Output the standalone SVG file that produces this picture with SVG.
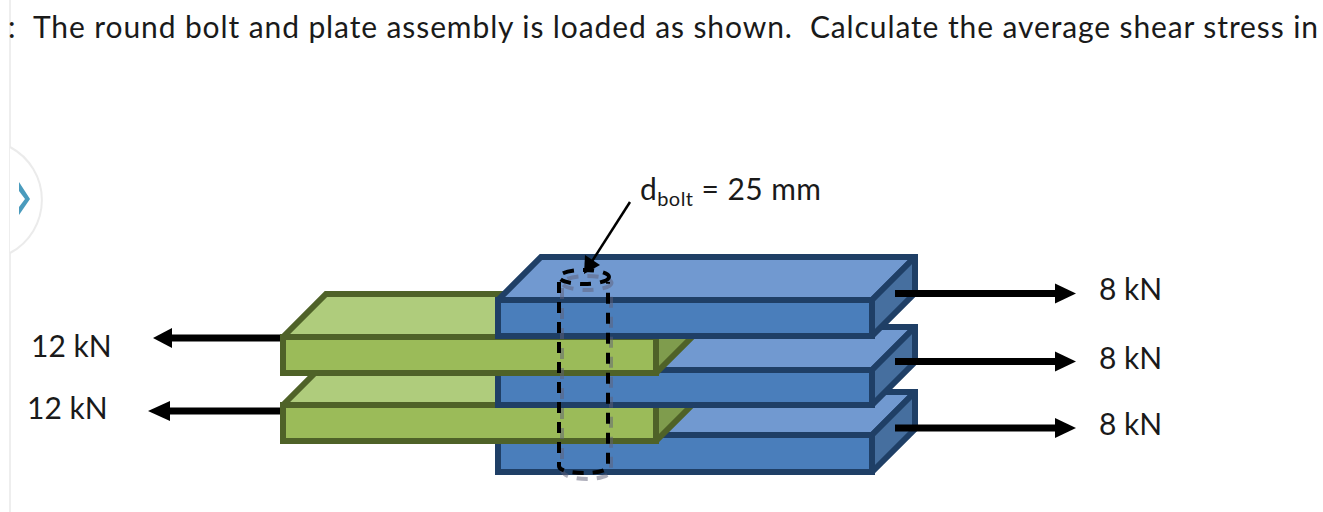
<svg xmlns="http://www.w3.org/2000/svg" width="1323" height="512" viewBox="0 0 1323 512">
<defs>
<style>
text{font-family:"Lato","Open Sans","Liberation Sans",sans-serif;fill:#1a1a1a;font-size:30px}
.bs{stroke:#1f3f66;stroke-width:6;stroke-linejoin:miter;stroke-miterlimit:2}
.gs{stroke:#4f6228;stroke-width:6;stroke-linejoin:miter;stroke-miterlimit:2}
.bf{fill:#4a7ebb}.bt{fill:#7199d0}.br{fill:#466f9f}
.gf{fill:#9bbb59}.gt{fill:#afcc7c}.gr{fill:#7f9c4d}
.corner{fill:#1f3f66}
.shaft{stroke:#000;stroke-width:7;fill:none}
.bk{stroke:#000;stroke-width:4;fill:none;stroke-dasharray:11 9}
.gy{stroke:#5f5f78;stroke-opacity:.5;stroke-width:4;fill:none;stroke-dasharray:11 9}
</style>
</defs>
<g id="sidebar">
<line x1="10" y1="0" x2="10" y2="512" stroke="#e8e8e8" stroke-width="1.5"/>
<path d="M10 147A60 60 0 0 1 10 253" fill="#fff" stroke="#ebebeb" stroke-width="2"/>
<path d="M19 182L30 199L19 215V207L25 199L19 191Z" fill="#4a9bbd"/>
</g>
<text id="question-colon" x="8" y="38">:</text>
<text id="question" x="33" y="38" textLength="1285" lengthAdjust="spacing" xml:space="preserve">The round bolt and plate assembly is loaded as shown.  Calculate the average shear stress in</text>
<g id="plate-blue-3">
<path class="bs bt" d="M498 435L541 392H915L872 435Z"/>
<path class="bs br" d="M872 435L915 392V429L872 472Z"/>
<rect class="bs bf" x="498" y="435" width="374" height="37"/>
<rect class="corner" x="912" y="389" width="6" height="6"/>
</g>
<g id="plate-green-2">
<path class="gs gt" d="M283 405L326 362H699L656 405Z"/>
<path class="gs gr" d="M656 405L699 362V398L656 441Z"/>
<rect class="gs gf" x="283" y="405" width="373" height="36"/>
</g>
<g id="plate-blue-2">
<path class="bs bt" d="M498 370L541 327H915L872 370Z"/>
<path class="bs br" d="M872 370L915 327V362L872 405Z"/>
<rect class="bs bf" x="498" y="370" width="374" height="35"/>
<rect class="corner" x="912" y="324" width="6" height="6"/>
</g>
<g id="plate-green-1">
<path class="gs gt" d="M283 337L326 294H699L656 337Z"/>
<path class="gs gr" d="M656 337L699 294V330L656 373Z"/>
<rect class="gs gf" x="283" y="337" width="373" height="36"/>
</g>
<g id="plate-blue-1">
<path class="bs bt" d="M498 300L541 257H915L872 300Z"/>
<path class="bs br" d="M872 300L915 257V293L872 336Z"/>
<rect class="bs bf" x="498" y="300" width="374" height="36"/>
<rect class="corner" x="912" y="254" width="6" height="6"/>
</g>
<g id="bolt">
<ellipse class="gy" cx="587" cy="283" rx="24.500" ry="7"/>
<path class="gy" d="M562 288V470C562 476 575 479 587 479S611 476 611 470V288"/>
<ellipse class="bk" cx="584" cy="277" rx="25" ry="7"/>
<path class="bk" d="M559 282V466C559 471 572 473 584 473S608 471 608 466V282"/>
</g>
<g id="connectors">
<path d="M630 202L589 266" stroke="#000" stroke-width="2.500" fill="none"/>
<path d="M584 274L585 255L600 265Z" fill="#000"/>
<path class="shaft" d="M895 293.500H1058"/><path d="M1055 283.500L1076 293.500L1055 303.500Z"/>
<path class="shaft" d="M895 361.500H1058"/><path d="M1055 351.500L1076 361.500L1055 371.500Z"/>
<path class="shaft" d="M895 428H1058"/><path d="M1055 418L1076 428L1055 438Z"/>
<path class="shaft" d="M280 338H170"/><path d="M172 328L153 338L172 348Z"/>
<path class="shaft" d="M280 411H168"/><path d="M170 401L148 411L170 421Z"/>
</g>
<g id="labels">
<text x="640" y="200" textLength="181" lengthAdjust="spacing">d<tspan font-size="20" dy="6">bolt</tspan><tspan dy="-6"> = 25 mm</tspan></text>
<text x="31" y="357">12 kN</text>
<text x="27" y="419">12 kN</text>
<text x="1099" y="300">8 kN</text>
<text x="1099" y="369">8 kN</text>
<text x="1099" y="435">8 kN</text>
</g>
</svg>
